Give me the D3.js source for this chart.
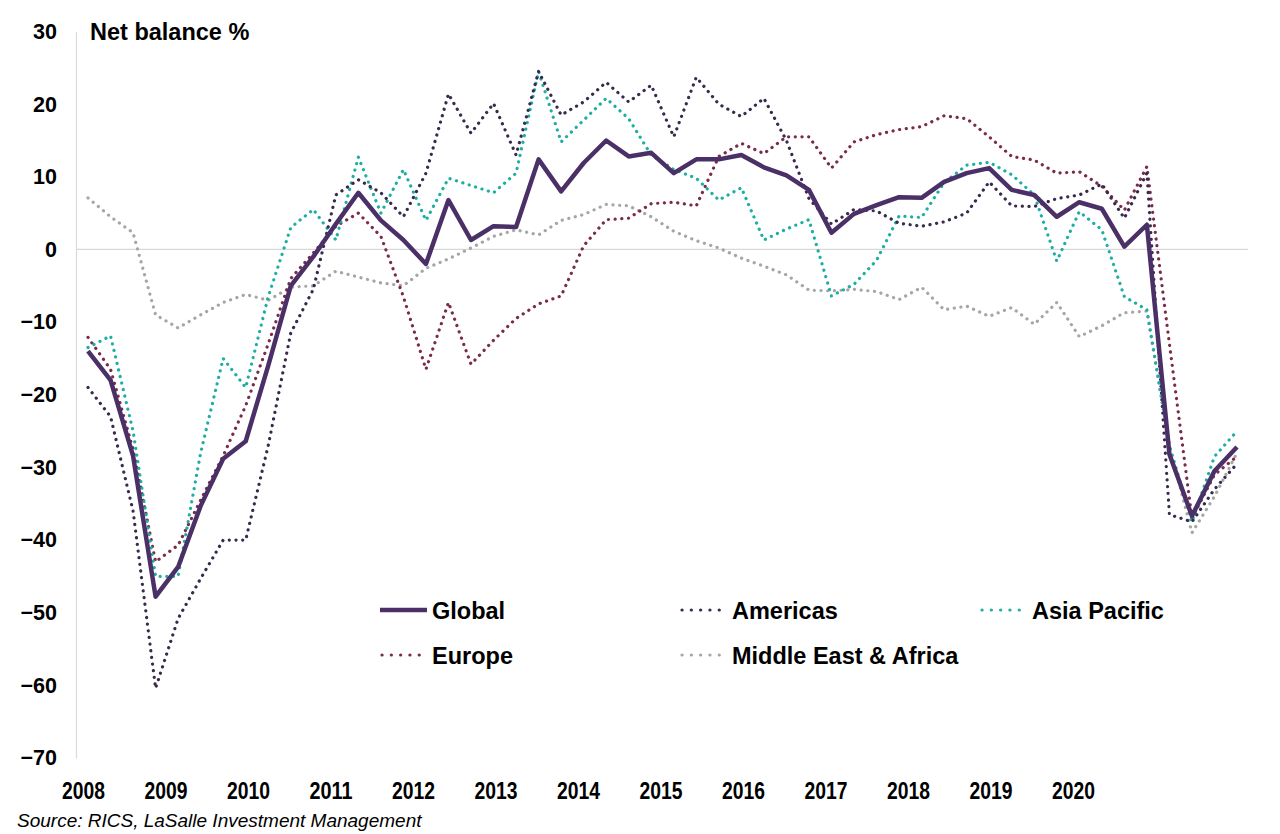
<!DOCTYPE html>
<html>
<head>
<meta charset="utf-8">
<script src="https://cdn.jsdelivr.net/npm/d3@7"></script>
<style>
  body { margin: 0; background: #fff; }
  text { font-family: "Liberation Sans", Arial, sans-serif; }
</style>
</head>
<body>
<svg id="chart" width="1280" height="834"></svg>
<script>
// Quarterly survey, 2008 Q1 - 2020 Q4
const quarters = [
  "2008Q1","2008Q2","2008Q3","2008Q4","2009Q1","2009Q2","2009Q3","2009Q4",
  "2010Q1","2010Q2","2010Q3","2010Q4","2011Q1","2011Q2","2011Q3","2011Q4",
  "2012Q1","2012Q2","2012Q3","2012Q4","2013Q1","2013Q2","2013Q3","2013Q4",
  "2014Q1","2014Q2","2014Q3","2014Q4","2015Q1","2015Q2","2015Q3","2015Q4",
  "2016Q1","2016Q2","2016Q3","2016Q4","2017Q1","2017Q2","2017Q3","2017Q4",
  "2018Q1","2018Q2","2018Q3","2018Q4","2019Q1","2019Q2","2019Q3","2019Q4",
  "2020Q1","2020Q2","2020Q3","2020Q4"
];

const yearLabels = ["2008","2009","2010","2011","2012","2013","2014","2015","2016","2017","2018","2019","2020"];
const yTicks = [30, 20, 10, 0, -10, -20, -30, -40, -50, -60, -70];

const globalVals = [-14, -18, -28.4, -47.8, -43.7, -35.3, -28.8, -26.4,
  -16, -5, -1, 3.5, 7.8, 4, 1.3, -2,
  6.8, 1.3, 3.2, 3.1, 12.4, 8, 11.9, 15,
  12.8, 13.3, 10.5, 12.4, 12.4, 13, 11.3, 10.2,
  8.2, 2.3, 4.9, 6.1, 7.2, 7.1, 9.3, 10.5,
  11.2, 8.2, 7.5, 4.5, 6.5, 5.6, 0.4, 3.4,
  -28.2, -36.7, -30.5, -27.2];

const americasVals = [-19, -23, -36, -60.4, -50.8, -45.3, -40, -40,
  -27, -11.5, -5.5, 7.5, 9.6, 7.8, 4.5, 10.5,
  21.4, 16, 20.1, 13, 24.5, 18.5, 20.3, 23,
  20.3, 22.6, 15.5, 23.7, 20, 18.3, 20.8, 15,
  7, 3.5, 5.5, 5.3, 3.6, 3.2, 3.8, 5,
  9.3, 6, 5.9, 7, 7.5, 9, 4.3, 10.5,
  -36.5, -37.5, -33, -29.5];

const asiaVals = [-13.5, -11.9, -25, -45, -45, -28, -15, -19,
  -6.5, 3, 5.5, 1.3, 12.7, 5, 11, 4,
  9.8, 8.8, 7.8, 10.5, 24.5, 14.8, 17.8, 20.8,
  18, 13, 11, 9.8, 6.8, 8.5, 1.3, 2.8,
  4.1, -6.4, -4.8, -1.5, 4.6, 4.4, 9.2, 11.6,
  12, 10.3, 7.5, -1.6, 5.2, 2.7, -6.5, -8.3,
  -27, -37.5, -28.5, -25];

const europeVals = [-12.1, -16.5, -27.5, -43, -40.7, -34.5, -28.4, -21.5,
  -13, -4, -0.5, 3.2, 5, 1.8, -6.5, -16.5,
  -7.3, -15.8, -12.5, -9.5, -7.5, -6.4, 0.5, 4.1,
  4.3, 6.3, 6.5, 6, 12.8, 14.6, 13.2, 15.5,
  15.5, 11.2, 14.8, 15.8, 16.5, 16.9, 18.4, 18,
  15.5, 12.8, 12.3, 10.5, 10.7, 8.7, 5.4, 11.4,
  -13, -37, -31, -28.5];

const meaVals = [7.1, 4.5, 2.3, -9, -10.8, -9, -7.3, -6.2,
  -7, -5.2, -5, -3, -3.8, -4.6, -5, -2.6,
  -1.3, 0.2, 1.8, 2.7, 2, 4, 4.8, 6.2,
  6, 4.5, 2.5, 1.2, 0.2, -1.2, -2.3, -3.5,
  -5.6, -5.7, -5.5, -5.8, -6.9, -5.2, -8.3, -7.8,
  -9.2, -8, -10.3, -7.3, -12, -10.5, -8.7, -8.5,
  -27, -39, -34, -28];

// drawing order: first drawn sits at the bottom
const series = [
  { name: "Middle East & Africa", values: meaVals, color: "#a6a6a6", dotted: true },
  { name: "Europe", values: europeVals, color: "#7a2a4a", dotted: true },
  { name: "Asia Pacific", values: asiaVals, color: "#1faea3", dotted: true },
  { name: "Americas", values: americasVals, color: "#382a4c", dotted: true },
  { name: "Global", values: globalVals, color: "#4b3068", dotted: false }
];

const legendOrder = ["Global", "Americas", "Asia Pacific", "Europe", "Middle East & Africa"];

const svg = d3.select("#chart");

const x = d3.scaleLinear()
  .domain([0, quarters.length - 1])
  .range([88, 1237]);

const y = d3.scaleLinear()
  .domain([-70, 30])
  .range([758, 31.5]);

// year labels sit on their own evenly spaced row
const xYears = d3.scalePoint()
  .domain(yearLabels)
  .range([83, 1073]);

// zero line
svg.append("line")
  .attr("x1", 76).attr("x2", 1248)
  .attr("y1", y(0)).attr("y2", y(0))
  .attr("stroke", "#d9d9d9")
  .attr("stroke-width", 1.2);

// y axis
const yAxis = svg.append("g")
  .attr("transform", "translate(76,0)")
  .call(d3.axisLeft(y).tickValues(yTicks).tickSize(0).tickPadding(19));
yAxis.select(".domain").attr("stroke", "#d9d9d9").attr("stroke-width", 1.2);
yAxis.selectAll("text")
  .attr("font-family", "Liberation Sans, Arial, sans-serif")
  .attr("font-size", 21.5)
  .attr("font-weight", "bold")
  .attr("fill", "#000");

// x axis labels (narrow bold look)
const xAxis = svg.append("g")
  .attr("transform", "translate(0,783)")
  .call(d3.axisBottom(xYears).tickSize(0).tickPadding(0));
xAxis.select(".domain").remove();
xAxis.selectAll("text")
  .attr("font-family", "Liberation Sans, Arial, sans-serif")
  .attr("font-size", 23)
  .attr("font-weight", "bold")
  .attr("fill", "#000")
  .attr("textLength", 43)
  .attr("lengthAdjust", "spacingAndGlyphs");

const line = d3.line()
  .x((d, i) => x(i))
  .y(d => y(d));

series.forEach(s => {
  const path = svg.append("path")
    .datum(s.values)
    .attr("d", line)
    .attr("fill", "none")
    .attr("stroke", s.color)
    .attr("stroke-linejoin", "round");
  if (s.dotted) {
    path.attr("stroke-width", 3.2)
      .attr("stroke-linecap", "round")
      .attr("stroke-dasharray", "0.1 6.6");
  } else {
    path.attr("stroke-width", 4.5);
  }
});

// title
svg.append("text")
  .attr("x", 90)
  .attr("y", 40)
  .attr("font-size", 23.5)
  .attr("font-weight", "bold")
  .text("Net balance %");

// legend
const legendCols = [380, 680, 980];
const legendRows = [610, 655];
legendOrder.forEach((name, i) => {
  const s = series.find(d => d.name === name);
  const lx = legendCols[i % 3];
  const ly = legendRows[Math.floor(i / 3)];
  const g = svg.append("g").attr("transform", `translate(${lx},${ly})`);
  const l = g.append("line")
    .attr("x1", 0).attr("x2", 47)
    .attr("y1", 0).attr("y2", 0)
    .attr("stroke", s.color);
  if (s.dotted) {
    l.attr("stroke-width", 3.2)
      .attr("stroke-linecap", "round")
      .attr("stroke-dasharray", "0.1 9.2")
      .attr("x1", 2).attr("x2", 48);
  } else {
    l.attr("stroke-width", 4.5);
  }
  g.append("text")
    .attr("x", 52)
    .attr("y", 8.5)
    .attr("font-size", 23.5)
    .attr("font-weight", "bold")
    .attr("fill", "#000")
    .text(name);
});

// source note
svg.append("text")
  .attr("x", 17)
  .attr("y", 827)
  .attr("font-size", 19)
  .attr("font-style", "italic")
  .attr("fill", "#000")
  .text("Source: RICS, LaSalle Investment Management");
</script>
</body>
</html>
